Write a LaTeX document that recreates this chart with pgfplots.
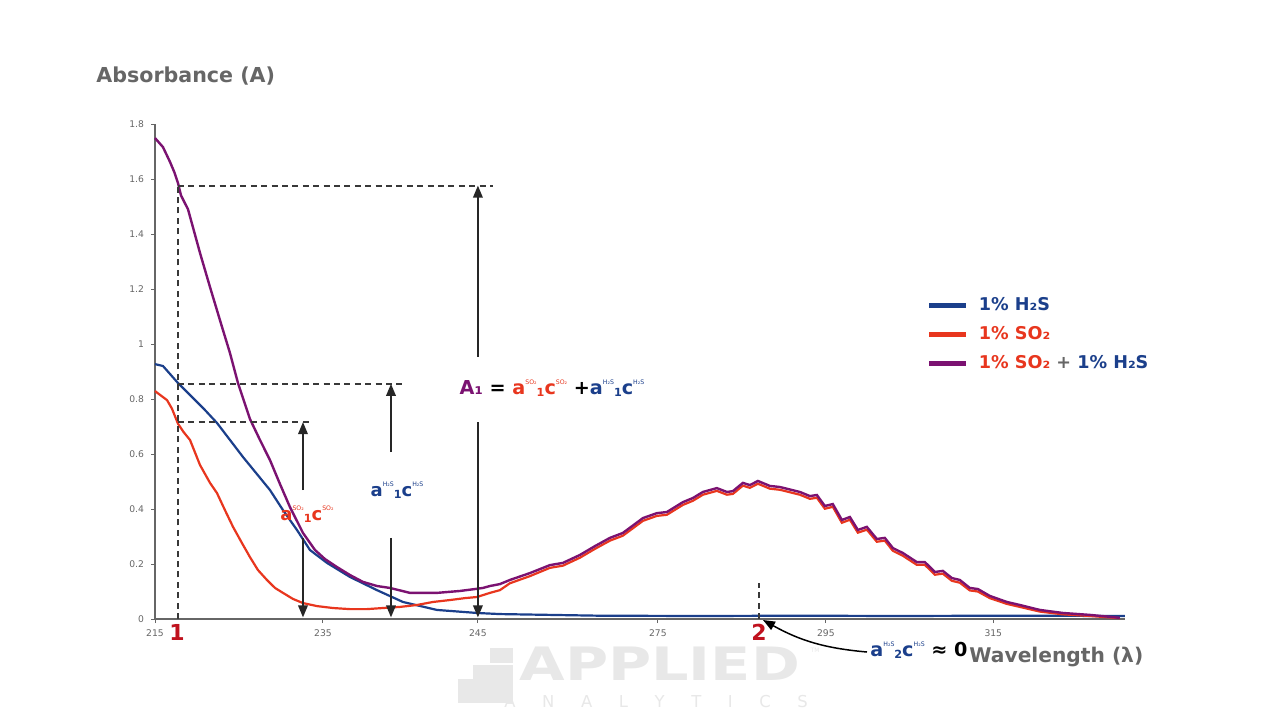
\documentclass[border=0pt]{standalone}
\usepackage{pgfplots}
\pgfplotsset{compat=1.18}
\usepackage{fontspec}
\setmainfont{DejaVu Sans}
\usetikzlibrary{arrows.meta}

\definecolor{hblue}{HTML}{1B3F8B}
\definecolor{sred}{HTML}{E8361E}
\definecolor{mpurple}{HTML}{7B1271}
\definecolor{txtgray}{HTML}{666666}
\definecolor{numred}{HTML}{C0121E}
\definecolor{wm}{HTML}{E8E8E8}

% tiny superscript / subscript used in the annotations
\newcommand\up[1]{\raisebox{1.0ex}{\fontsize{3.1}{3.5}\selectfont\mdseries #1}}
\newcommand\supsub[2]{\up{#1}\raisebox{-0.2ex}{\fontsize{5.6}{6}\selectfont #2}}

\tikzset{
  dline/.style={draw=black!78, line width=0.95pt, dash pattern=on 3pt off 2.2pt},
  arr/.style={draw=black!85, line width=0.8pt, -{Triangle[length=6pt,width=4.8pt]}},
}

\begin{document}
\begin{tikzpicture}
\path[use as bounding box, fill=white] (0,0) rectangle (640pt,-360pt);

\begin{axis}[
  scale only axis, width=485pt, height=247.5pt,
  at={(77.5pt,-309.5pt)}, anchor=south west,
  xmin=215, xmax=330.5, ymin=0, ymax=1.8,
  axis lines=left, axis line style={txtgray, line width=1.2pt, -},
  xtick={215,235,253.45,274.88,294.88,314.82},
  xticklabels={215,235,245,275,295,315},
  ytick={0,0.2,0.4,0.6,0.8,1,1.2,1.4,1.6,1.8},
  yticklabels={0,0.2,0.4,0.6,0.8,1,1.2,1.4,1.6,1.8},
  tick align=outside, major tick length=2pt,
  tick style={txtgray, line width=0.5pt},
  ticklabel style={font=\fontsize{4.6}{5}\selectfont, text=txtgray},
  clip=false,
  legend style={at={(0.789,0.663)}, anchor=north west, draw=none, fill=none,
    font=\bfseries\fontsize{8.8}{9}\selectfont, row sep=4.2pt,
    nodes={inner sep=1pt, text height=6.5pt, text depth=1.8pt}},
  legend cell align=left,
  /tikz/every odd column/.append style={column sep=4pt},
  legend image code/.code={\draw[#1, line width=2.6pt] (0pt,0pt) -- (18.5pt,0pt);},
]
% 1% H2S
\addplot[hblue, line width=1.1pt] coordinates {
(215.00,0.927) (215.95,0.920) (216.79,0.891) (217.74,0.858) (219.52,0.804)
(220.95,0.760) (222.38,0.713) (223.93,0.651) (225.48,0.589) (227.14,0.527)
(228.69,0.469) (230.24,0.396) (231.90,0.324) (233.45,0.251) (235.48,0.204)
(238.21,0.153) (241.43,0.105) (244.52,0.062) (248.57,0.033) (253.33,0.022)
(256.07,0.018) (262.02,0.015) (267.98,0.012) (279.88,0.011) (291.79,0.012)
(303.69,0.011) (315.60,0.012) (330.48,0.011)
};
\addlegendentry{\textcolor{hblue}{1\% H₂S}}
% 1% SO2
\addplot[sred, line width=1.1pt] coordinates {
(215.00,0.829) (215.60,0.815) (216.43,0.796) (217.02,0.765) (217.74,0.710)
(218.40,0.680) (219.17,0.651) (220.36,0.560) (221.55,0.495) (222.38,0.458)
(223.33,0.396) (224.29,0.335) (225.36,0.276) (226.31,0.225) (227.26,0.178)
(228.33,0.142) (229.29,0.113) (230.24,0.095) (231.43,0.073) (232.62,0.058)
(234.29,0.047) (236.19,0.040) (238.21,0.036) (240.24,0.036) (242.14,0.040)
(244.17,0.044) (246.19,0.051) (248.10,0.062) (250.12,0.069) (251.90,0.076)
(253.33,0.080) (254.88,0.095) (256.07,0.105) (257.26,0.130) (259.64,0.156)
(262.02,0.186) (263.57,0.194) (265.60,0.223) (267.38,0.255) (269.17,0.285)
(270.71,0.303) (273.10,0.357) (274.76,0.375) (275.95,0.379) (277.86,0.415)
(279.05,0.430) (280.24,0.452) (281.90,0.466) (283.10,0.452) (283.81,0.455)
(285.00,0.485) (285.83,0.477) (286.79,0.492) (288.21,0.474) (289.40,0.470)
(291.79,0.452) (292.98,0.437) (293.81,0.441) (294.76,0.401) (295.71,0.408)
(296.79,0.350) (297.74,0.361) (298.69,0.314) (299.76,0.325) (300.95,0.281)
(301.90,0.285) (302.86,0.248) (304.05,0.230) (305.71,0.197) (306.67,0.197)
(307.86,0.161) (308.81,0.165) (309.88,0.139) (310.83,0.132) (312.02,0.104)
(312.98,0.100) (314.40,0.076) (316.43,0.055) (317.98,0.044) (320.36,0.027)
(323.10,0.017) (326.31,0.011) (329.05,0.005) (329.88,0.003)
};
\addlegendentry{\textcolor{sred}{1\% SO₂}}
% 1% SO2 + 1% H2S
\addplot[mpurple, line width=1.2pt] coordinates {
(215.00,1.749) (215.95,1.716) (216.79,1.662) (217.30,1.625) (217.74,1.585)
(218.10,1.540) (218.93,1.490) (220.36,1.331) (221.55,1.207) (222.98,1.062)
(223.93,0.967) (224.88,0.858) (226.31,0.727) (227.50,0.651) (228.69,0.578)
(229.88,0.491) (231.07,0.407) (232.62,0.313) (234.05,0.251) (235.24,0.218)
(236.67,0.189) (238.21,0.160) (239.76,0.135) (241.43,0.120) (242.98,0.113)
(245.36,0.095) (248.57,0.095) (251.31,0.102) (253.10,0.109) (254.05,0.113)
(254.88,0.120) (256.07,0.127) (257.26,0.142) (259.64,0.167) (262.02,0.196)
(263.57,0.204) (265.60,0.233) (267.38,0.265) (269.17,0.295) (270.71,0.313)
(273.10,0.367) (274.76,0.385) (275.95,0.389) (277.86,0.425) (279.05,0.440)
(280.24,0.462) (281.90,0.476) (283.10,0.462) (283.81,0.465) (285.00,0.495)
(285.83,0.487) (286.79,0.502) (288.21,0.484) (289.40,0.480) (291.79,0.462)
(292.98,0.447) (293.81,0.451) (294.76,0.411) (295.71,0.418) (296.79,0.360)
(297.74,0.371) (298.69,0.324) (299.76,0.335) (300.95,0.291) (301.90,0.295)
(302.86,0.258) (304.05,0.240) (305.71,0.207) (306.67,0.207) (307.86,0.171)
(308.81,0.175) (309.88,0.149) (310.83,0.142) (312.02,0.113) (312.98,0.109)
(314.40,0.084) (316.43,0.062) (317.98,0.051) (320.36,0.033) (323.10,0.022)
(326.31,0.015) (329.05,0.007) (329.88,0.004)
};
\addlegendentry{\textcolor{sred}{1\% SO₂} \textcolor{txtgray}{+} \textcolor{hblue}{1\% H₂S}}

% reading lines at wavelength 1 and 2
\draw[dline] (axis cs:217.74,0) -- (axis cs:217.74,1.576);
\draw[dline] (axis cs:217.74,1.576) -- (axis cs:255.3,1.576);
\draw[dline] (axis cs:217.74,0.855) -- (axis cs:244.76,0.855);
\draw[dline] (axis cs:217.74,0.716) -- (axis cs:233.45,0.716);
\draw[dline] (axis cs:286.9,0) -- (axis cs:286.9,0.13);

% arrows
\draw[arr] (axis cs:253.45,0.953) -- (axis cs:253.45,1.576);
\draw[arr] (axis cs:253.45,0.716) -- (axis cs:253.45,0.006);
\draw[arr] (axis cs:243.10,0.607) -- (axis cs:243.10,0.855);
\draw[arr] (axis cs:243.10,0.295) -- (axis cs:243.10,0.006);
\draw[arr] (axis cs:232.62,0.469) -- (axis cs:232.62,0.716);
\draw[arr] (axis cs:232.62,0.295) -- (axis cs:232.62,0.006);
\end{axis}

\begin{scope}[x=0.5pt, y=-0.5pt]
% watermark
\fill[wm] (490,648) rectangle (513,663);
\fill[wm] (473,665) rectangle (513,703);
\fill[wm] (458,679) rectangle (486,703);
\node[anchor=west, text=wm, font=\bfseries\fontsize{23}{23}\selectfont, xscale=1.28, inner sep=0pt] at (519,663.5) {APPLIED};
\node[anchor=west, text=wm, font=\fontsize{8.2}{8.2}\selectfont, inner sep=0pt] at (504,702)
  {A\hspace{13.3pt}N\hspace{13.3pt}A\hspace{13.3pt}L\hspace{13.3pt}Y\hspace{13.3pt}T\hspace{13.3pt}I\hspace{13.3pt}C\hspace{13.3pt}S};
\node[text=wm, font=\fontsize{3}{3}\selectfont] at (815,650) {TM};

% titles
\node[anchor=west, inner sep=0pt, text=txtgray, font=\bfseries\fontsize{10.3}{11}\selectfont] at (96,76) {Absorbance (A)};
\node[anchor=west, inner sep=0pt, text=txtgray, font=\bfseries\fontsize{10.1}{11}\selectfont] at (969,657) {Wavelength (λ)};

% wavelength markers
\node[text=numred, font=\bfseries\fontsize{11}{11}\selectfont] at (177,632) {1};
\node[text=numred, font=\bfseries\fontsize{11}{11}\selectfont] at (759,632) {2};

% formulas
\node[font=\bfseries\fontsize{9.6}{10}\selectfont] at (552,388)
  {\textcolor{mpurple}{A₁} = \textcolor{sred}{a\supsub{SO₂}{1}c\up{SO₂}} +\textcolor{hblue}{a\supsub{H₂S}{1}c\up{H₂S}}};
\node[text=hblue, font=\bfseries\fontsize{9}{10}\selectfont] at (397,490) {a\supsub{H₂S}{1}c\up{H₂S}};
\node[text=sred, font=\bfseries\fontsize{9}{10}\selectfont] at (307,514) {a\supsub{SO₂}{1}c\up{SO₂}};
\node[anchor=west, inner sep=0pt, font=\bfseries\fontsize{9.6}{10}\selectfont] at (870,650)
  {\textcolor{hblue}{a\supsub{H₂S}{2}c\up{H₂S}} ≈ 0};
\draw[black, line width=0.75pt, -{Triangle[length=6pt,width=4.6pt]}] (867,652) to[bend left=12] (763,620);
\end{scope}
\end{tikzpicture}
\end{document}
